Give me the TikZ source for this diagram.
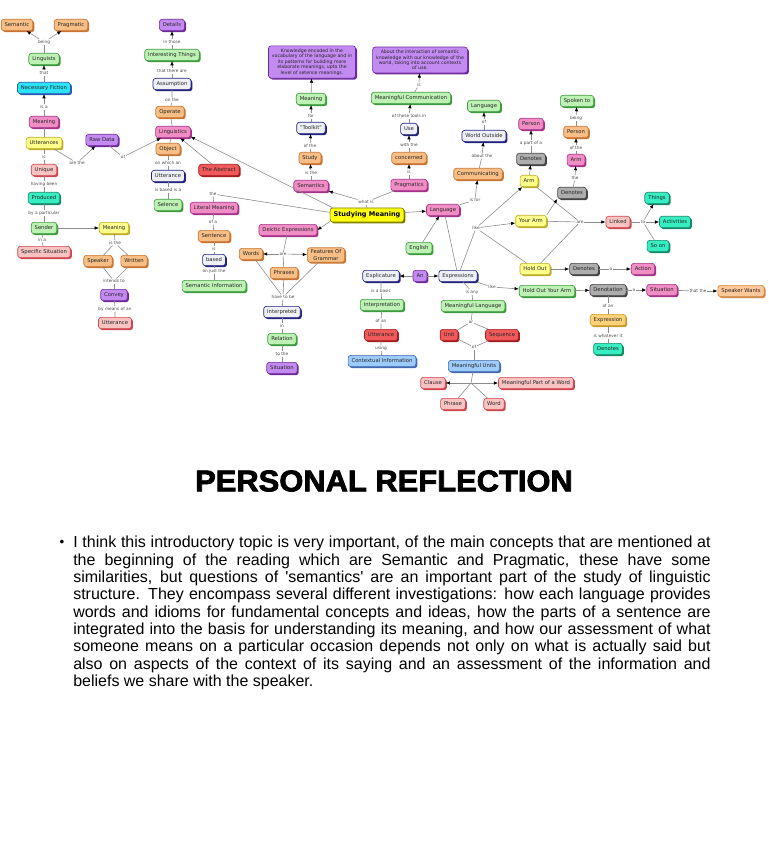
\documentclass[tikz,border=0pt]{standalone}
\usepackage{fontspec}
\usepackage{graphicx}
\setmainfont{Liberation Sans}
\newfontfamily\mapfont{DejaVu Sans}
\usetikzlibrary{arrows.meta,shadows}
\definecolor{MapInk}{HTML}{262626}
\definecolor{LinkInk}{HTML}{4A4A4A}
\definecolor{LinkLine}{HTML}{8C8C8C}
\definecolor{OrangeFill}{HTML}{F7BE85}
\definecolor{OrangeEdge}{HTML}{C87533}
\definecolor{GreenFill}{HTML}{BDF2B4}
\definecolor{GreenEdge}{HTML}{3E9B3E}
\definecolor{PinkFill}{HTML}{F18DC5}
\definecolor{PinkEdge}{HTML}{A6338A}
\definecolor{YellowFill}{HTML}{FFFF8C}
\definecolor{YellowEdge}{HTML}{BFAE2A}
\definecolor{CyanFill}{HTML}{2CE3F5}
\definecolor{CyanEdge}{HTML}{2A5BB5}
\definecolor{WhiteFill}{HTML}{EEF0F6}
\definecolor{WhiteEdge}{HTML}{23237E}
\definecolor{PurpleFill}{HTML}{C38AF2}
\definecolor{PurpleEdge}{HTML}{6E2A9A}
\definecolor{RedFill}{HTML}{F05A5A}
\definecolor{RedEdge}{HTML}{A51E1E}
\definecolor{SalmonFill}{HTML}{F7C3C3}
\definecolor{SalmonEdge}{HTML}{D0454E}
\definecolor{TealFill}{HTML}{35EFC2}
\definecolor{TealEdge}{HTML}{168A68}
\definecolor{GrayFill}{HTML}{ADADAD}
\definecolor{GrayEdge}{HTML}{454545}
\definecolor{BlueFill}{HTML}{9DCBFA}
\definecolor{BlueEdge}{HTML}{4569B2}
\definecolor{GoldFill}{HTML}{FFD27A}
\definecolor{GoldEdge}{HTML}{C89A2A}
\definecolor{PeachFill}{HTML}{FFC89A}
\definecolor{PeachEdge}{HTML}{D08A4A}
\definecolor{HighlightFill}{HTML}{FFFF10}
\definecolor{HighlightEdge}{HTML}{7A7A00}
\tikzset{
  mapbox/.style={draw=#1Edge, fill=#1Fill, line width=0.5pt, rounded corners=2pt,
    font=\mapfont\fontsize{3.95pt}{4.6pt}\selectfont, text=MapInk, align=center,
    inner xsep=2.6pt, inner ysep=1.6pt, minimum height=8.5pt,
    drop shadow={shadow xshift=1.1pt, shadow yshift=-1.1pt, fill=#1Edge, opacity=1}},
  focus/.style={mapbox=Highlight, font=\mapfont\bfseries\fontsize{4.9pt}{5.5pt}\selectfont,
    text=black, minimum height=10.5pt},
  notebox/.style={mapbox=Purple, font=\mapfont\fontsize{3.5pt}{4.1pt}\selectfont, inner ysep=2.2pt},
  linklabel/.style={font=\mapfont\fontsize{3.2pt}{3.8pt}\selectfont, text=LinkInk, fill=white, inner sep=0.5pt},
  maplink/.style={draw=LinkLine, line width=0.45pt},
  maparrow/.style={maplink, -{Latex[length=3.2pt,width=2.6pt,color=black]}},
}

\begin{document}
\begin{tikzpicture}[x=0.75pt,y=-0.75pt]
  \useasboundingbox (0,0) rectangle (768,866);
  % Left column: Semantic and Pragmatic down to Specific Situation
  \node[mapbox=Orange] (semanticTop) at (17,25) {Semantic};
  \node[mapbox=Orange] (pragmaticTop) at (71,25) {Pragmatic};
  \node[linklabel] (lbBeing) at (44,42) {being};
  \node[mapbox=Green] (linguists) at (44,59) {Linguists};
  \node[linklabel] (lbThat) at (44,73) {that};
  \node[mapbox=Cyan] (fiction) at (44,88) {Necessary Fiction};
  \node[linklabel] (lbIsA) at (44,107) {is a};
  \node[mapbox=Pink] (meaningLeft) at (44,122) {Meaning};
  \node[mapbox=Yellow] (utterances) at (44,143) {Utterances};
  \node[linklabel] (lbIs) at (44,157) {is};
  \node[mapbox=Salmon] (unique) at (44,170) {Unique};
  \node[linklabel] (lbHaving) at (44,184) {having been};
  \node[mapbox=Teal] (produced) at (44,198) {Produced};
  \node[linklabel] (lbParticular) at (44,213) {by a particular};
  \node[mapbox=Green] (sender) at (44,228) {Sender};
  \node[linklabel] (lbInA) at (42,240) {in a};
  \node[mapbox=Salmon] (specific) at (44,252) {Specific Situation};
  \node[mapbox=Yellow] (meaningSender) at (114,228) {Meaning};
  \node[linklabel] (lbIsThe) at (115,243) {is the};
  \node[mapbox=Orange] (speaker) at (98,261) {Speaker};
  \node[mapbox=Orange] (written) at (134,261) {Written};
  \node[linklabel] (lbIntends) at (114,281) {intends to};
  \node[mapbox=Purple] (convey) at (114,295) {Convey};
  \node[linklabel] (lbMeans) at (115,309) {by means of an};
  \node[mapbox=Salmon] (utteranceLeft) at (115,323) {Utterance};
  \node[linklabel] (lbAreThe) at (77,163) {are the};
  \node[mapbox=Purple] (rawData) at (102,140) {Raw Data};
  \node[linklabel] (lbOfRaw) at (123,157) {of};
  % Second column: Details down to Selence
  \node[mapbox=Purple] (details) at (172,25) {Details};
  \node[linklabel] (lbInThose) at (172,42) {in those};
  \node[mapbox=Green] (things) at (172,55) {Interesting Things};
  \node[linklabel] (lbThereAre) at (172,71) {that there are};
  \node[mapbox=White] (assumption) at (172,84) {Assumption};
  \node[linklabel] (lbOnThe) at (172,100) {on the};
  \node[mapbox=Orange] (operate) at (170,112) {Operate};
  \node[mapbox=Pink] (linguistics) at (173,132) {Linguistics};
  \node[mapbox=Orange] (object) at (168,149) {Object};
  \node[linklabel] (lbOnWhich) at (168,163) {on which an};
  \node[mapbox=White] (utteranceMid) at (168,176) {Utterance};
  \node[linklabel] (lbBasedIs) at (168,190) {is based is a};
  \node[mapbox=Green] (selence) at (168,205) {Selence};
  \node[mapbox=Red] (abstract) at (219,170) {The Abstract};
  % Third column: Literal Meaning
  \node[linklabel] (lbThe) at (213,194) {the};
  \node[mapbox=Pink] (literal) at (214,208) {Literal Meaning};
  \node[linklabel] (lbOfA) at (213,222) {of a};
  \node[mapbox=Orange] (sentence) at (214,236) {Sentence};
  \node[linklabel] (lbIsSent) at (214,249) {is};
  \node[mapbox=White] (based) at (214,260) {based};
  \node[linklabel] (lbJust) at (214,271) {on just the};
  \node[mapbox=Green] (semInfo) at (214,286) {Semantic Information};
  % Fourth column: Deictic Expressions
  \node[mapbox=Pink] (deictic) at (288,230) {Deictic Expressions};
  \node[mapbox=Orange] (words) at (251,254) {Words};
  \node[linklabel] (lbAreDeictic) at (283,254) {are};
  \node[mapbox=Orange] (grammar) at (326,255) {Features Of\\Grammar};
  \node[mapbox=Orange] (phrases) at (284,273) {Phrases};
  \node[linklabel] (lbHaveTo) at (283,297) {have to be};
  \node[mapbox=White] (interpreted) at (282,312) {Interpreted};
  \node[linklabel] (lbIn) at (282,326) {in};
  \node[mapbox=Green] (relation) at (282,339) {Relation};
  \node[linklabel] (lbToThe) at (282,354) {to the};
  \node[mapbox=Purple] (situationLow) at (282,368) {Situation};
  % Centre: Studying Meaning, Semantics and Pragmatics
  \node[focus] (studying) at (367,215) {Studying Meaning};
  \node[linklabel] (lbWhatIs) at (366,202) {what is};
  \node[mapbox=Pink] (semantics) at (311,186) {Semantics};
  \node[linklabel] (lbIsTheSem) at (311,173) {is the};
  \node[mapbox=Orange] (study) at (310,158) {Study};
  \node[linklabel] (lbOfTheSem) at (310,146) {of the};
  \node[mapbox=White] (toolkit) at (311,128) {"Toolkit"};
  \node[linklabel] (lbFor) at (311,116) {for};
  \node[mapbox=Green] (meaningTop) at (311,99) {Meaning};
  \node[notebox] (knowledge) at (312,62) {Knowledge encoded in the\\vocabulary of the language and in\\its patterns for building more\\elaborate meanings, upto the\\level of setence meanings.};
  \node[mapbox=Pink] (pragmatics) at (409,185) {Pragmatics};
  \node[linklabel] (lbIsPrag) at (409,172) {is};
  \node[mapbox=Orange] (concerned) at (409,158) {concerned};
  \node[linklabel] (lbWithThe) at (409,145) {with the};
  \node[mapbox=White] (use) at (409,129) {Use};
  \node[linklabel] (lbTools) at (409,116) {of these tools in};
  \node[mapbox=Green] (communication) at (411,98) {Meaningful Communication};
  \node[linklabel] (lbIsComm) at (419,85) {is};
  \node[notebox] (about) at (420,60) {About the interaction of semantic\\knowledge with our knowledge of the\\world, taking into account contexts\\of use.};
  % Language and Expressions
  \node[mapbox=Pink] (language) at (443,210) {Language};
  \node[linklabel] (lbIsFor) at (475,200) {is for};
  \node[mapbox=Orange] (communicating) at (478,174) {Communicating};
  \node[linklabel] (lbAboutThe) at (482,156) {about the};
  \node[mapbox=White] (world) at (484,136) {World Outside};
  \node[linklabel] (lbOfWorld) at (484,122) {of};
  \node[mapbox=Green] (languageTop) at (484,106) {Language};
  \node[mapbox=Green] (english) at (419,248) {English};
  \node[mapbox=White] (expressions) at (458,276) {Expressions};
  \node[mapbox=Purple] (an) at (420,276) {An};
  \node[mapbox=White] (explicature) at (381,276) {Explicature};
  \node[linklabel] (lbBasic) at (381,291) {is a basic};
  \node[mapbox=Green] (interpretation) at (382,305) {Interpretation};
  \node[linklabel] (lbOfAn) at (381,321) {of an};
  \node[mapbox=Red] (utteranceRed) at (381,335) {Utterance};
  \node[linklabel] (lbUsing) at (381,348) {using};
  \node[mapbox=Blue] (contextual) at (382,361) {Contextual Information};
  \node[linklabel] (lbLike) at (476,228) {like};
  \node[linklabel] (lbLikeHold) at (492,287) {like};
  \node[linklabel] (lbIsAny) at (472,292) {is any};
  \node[mapbox=Green] (meaningfulLang) at (473,306) {Meaningful Language};
  \node[linklabel] (lbOr) at (471,322) {or};
  \node[mapbox=Red] (unit) at (449,335) {Unit};
  \node[mapbox=Red] (sequence) at (502,335) {Sequence};
  \node[linklabel] (lbOfUnits) at (474,347) {of};
  \node[mapbox=Blue] (units) at (474,366) {Meaningful Units};
  \coordinate (hub) at (471,383);
  \node[mapbox=Salmon] (clause) at (433,383) {Clause};
  \node[mapbox=Salmon] (partWord) at (536,383) {Meaningful Part of a Word};
  \node[mapbox=Salmon] (phrase) at (453,404) {Phrase};
  \node[mapbox=Salmon] (word) at (494,404) {Word};
  % Right: Arm, Your Arm, Hold Out
  \node[mapbox=Yellow] (arm) at (529,181) {Arm};
  \node[mapbox=Gray] (denotesArm) at (531,159) {Denotes};
  \node[linklabel] (lbPartOf) at (531,143) {a part of a};
  \node[mapbox=Pink] (personArm) at (531,124) {Person};
  \node[mapbox=Yellow] (yourArm) at (531,221) {Your Arm};
  \node[mapbox=Yellow] (holdOut) at (535,269) {Hold Out};
  \node[linklabel] (lbAreArm) at (580,222) {are};
  \node[mapbox=Salmon] (linked) at (618,222) {Linked};
  \node[linklabel] (lbTo) at (643,222) {to};
  \node[mapbox=Teal] (thingsRight) at (657,198) {Things};
  \node[mapbox=Teal] (activities) at (675,222) {Activities};
  \node[mapbox=Teal] (soOn) at (658,246) {So on};
  \node[mapbox=Gray] (denotesYour) at (572,193) {Denotes};
  \node[linklabel] (lbTheArm) at (575,178) {the};
  \node[mapbox=Pink] (armPink) at (576,160) {Arm};
  \node[linklabel] (lbOfTheArm) at (576,148) {of the};
  \node[mapbox=Orange] (personSpoken) at (576,132) {Person};
  \node[linklabel] (lbBeingTo) at (576,118) {being};
  \node[mapbox=Green] (spoken) at (577,101) {Spoken to};
  \node[mapbox=Gray] (denotesHold) at (584,269) {Denotes};
  \node[linklabel] (lbAAction) at (611,269) {a};
  \node[mapbox=Pink] (action) at (643,269) {Action};
  \node[mapbox=Green] (holdYourArm) at (547,291) {Hold Out Your Arm};
  \node[mapbox=Gray] (denotation) at (608,290) {Denotation};
  \node[linklabel] (lbASit) at (634,290) {a};
  \node[mapbox=Pink] (situationRight) at (662,290) {Situation};
  \node[linklabel] (lbThatThe) at (698,291) {that the};
  \node[mapbox=Peach] (wants) at (741,291) {Speaker Wants};
  \node[linklabel] (lbOfAnExp) at (608,306) {of an};
  \node[mapbox=Gold] (expression) at (608,320) {Expression};
  \node[linklabel] (lbWhatever) at (608,336) {is whatever it};
  \node[mapbox=Teal] (denotesEnd) at (608,349) {Denotes};
  % Links: left column
  \draw[maplink] (linguists) -- (lbBeing);
  \draw[maparrow] (lbBeing) -- (semanticTop);
  \draw[maparrow] (lbBeing) -- (pragmaticTop);
  \draw[maplink] (fiction) -- (lbThat);
  \draw[maparrow] (lbThat) -- (linguists);
  \draw[maplink] (meaningLeft) -- (lbIsA);
  \draw[maparrow] (lbIsA) -- (fiction);
  \draw[maplink] (utterances) -- (meaningLeft);
  \draw[maplink] (utterances) -- (lbIs) -- (unique);
  \draw[maplink] (unique) -- (lbHaving) -- (produced);
  \draw[maplink] (produced) -- (lbParticular) -- (sender);
  \draw[maplink] (sender) -- (lbInA) -- (specific);
  \draw[maparrow] (sender) -- (meaningSender);
  \draw[maplink] (meaningSender) -- (lbIsThe);
  \draw[maplink] (lbIsThe) -- (speaker);
  \draw[maplink] (lbIsThe) -- (written);
  \draw[maplink] (speaker) -- (lbIntends);
  \draw[maplink] (written) -- (lbIntends);
  \draw[maplink] (lbIntends) -- (convey);
  \draw[maplink] (convey) -- (lbMeans) -- (utteranceLeft);
  \draw[maplink] (utterances) -- (lbAreThe);
  \draw[maparrow] (lbAreThe) -- (rawData);
  \draw[maplink] (rawData) -- (lbOfRaw);
  \draw[maparrow] (lbOfRaw) -- (linguistics);
  % Links: second and third column
  \draw[maplink] (linguistics) -- (operate);
  \draw[maplink] (operate) -- (lbOnThe) -- (assumption);
  \draw[maplink] (assumption) -- (lbThereAre);
  \draw[maparrow] (lbThereAre) -- (things);
  \draw[maplink] (things) -- (lbInThose);
  \draw[maparrow] (lbInThose) -- (details);
  \draw[maplink] (linguistics) -- (object);
  \draw[maplink] (object) -- (lbOnWhich) -- (utteranceMid);
  \draw[maplink] (utteranceMid) -- (lbBasedIs) -- (selence);
  \draw[maparrow] (abstract) -- (linguistics);
  \draw[maparrow] (studying.168) -- (linguistics.-15);
  \draw[maplink] (literal) -- (lbThe);
  \draw[maplink] (lbThe) -- (studying.176);
  \draw[maplink] (literal) -- (lbOfA) -- (sentence);
  \draw[maplink] (sentence) -- (lbIsSent) -- (based);
  \draw[maplink] (based) -- (lbJust) -- (semInfo);
  % Links: Deictic Expressions
  \draw[maparrow] (studying.190) -- (deictic.east);
  \draw[maplink] (deictic) -- (lbAreDeictic);
  \draw[maparrow] (lbAreDeictic) -- (words);
  \draw[maparrow] (lbAreDeictic) -- (grammar);
  \draw[maplink] (lbAreDeictic) -- (phrases);
  \draw[maplink] (words) -- (lbHaveTo);
  \draw[maplink] (phrases) -- (lbHaveTo);
  \draw[maplink] (grammar) -- (lbHaveTo);
  \draw[maplink] (lbHaveTo) -- (interpreted);
  \draw[maplink] (interpreted) -- (lbIn) -- (relation);
  \draw[maplink] (relation) -- (lbToThe) -- (situationLow);
  % Links: Semantics and Pragmatics
  \draw[maplink] (studying) -- (lbWhatIs);
  \draw[maparrow] (lbWhatIs) -- (semantics);
  \draw[maplink] (lbWhatIs) -- (pragmatics);
  \draw[maplink] (semantics) -- (lbIsTheSem);
  \draw[maparrow] (lbIsTheSem) -- (study);
  \draw[maplink] (study) -- (lbOfTheSem);
  \draw[maparrow] (lbOfTheSem) -- (toolkit);
  \draw[maplink] (toolkit) -- (lbFor);
  \draw[maparrow] (lbFor) -- (meaningTop);
  \draw[maparrow] (meaningTop) -- (knowledge);
  \draw[maplink] (pragmatics) -- (lbIsPrag);
  \draw[maparrow] (lbIsPrag) -- (concerned);
  \draw[maplink] (concerned) -- (lbWithThe);
  \draw[maparrow] (lbWithThe) -- (use);
  \draw[maplink] (use) -- (lbTools);
  \draw[maparrow] (lbTools) -- (communication);
  \draw[maplink] (communication) -- (lbIsComm);
  \draw[maparrow] (lbIsComm) -- (about);
  % Links: Language and Expressions
  \draw[maparrow] (studying) -- (language);
  \draw[maplink] (language) -- (lbIsFor);
  \draw[maparrow] (lbIsFor) -- (communicating);
  \draw[maplink] (communicating) -- (lbAboutThe);
  \draw[maparrow] (lbAboutThe) -- (world);
  \draw[maplink] (world) -- (lbOfWorld);
  \draw[maparrow] (lbOfWorld) -- (languageTop);
  \draw[maparrow] (english) -- (language);
  \draw[maplink] (expressions) -- (language.-70);
  \draw[maplink] (expressions) -- (lbLike);
  \draw[maparrow] (lbLike) -- (arm);
  \draw[maparrow] (lbLike) -- (yourArm);
  \draw[maplink] (lbLike) -- (holdOut);
  \draw[maparrow] (an) -- (explicature);
  \draw[maparrow] (an) -- (expressions);
  \draw[maplink] (explicature) -- (lbBasic) -- (interpretation);
  \draw[maplink] (interpretation) -- (lbOfAn) -- (utteranceRed);
  \draw[maplink] (utteranceRed) -- (lbUsing) -- (contextual);
  \draw[maplink] (expressions) -- (lbLikeHold);
  \draw[maparrow] (lbLikeHold) -- (holdYourArm);
  \draw[maplink] (expressions) -- (lbIsAny) -- (meaningfulLang);
  \draw[maplink] (meaningfulLang) -- (lbOr);
  \draw[maplink] (lbOr) -- (unit);
  \draw[maplink] (lbOr) -- (sequence);
  \draw[maplink] (unit) -- (lbOfUnits);
  \draw[maplink] (sequence) -- (lbOfUnits);
  \draw[maplink] (lbOfUnits) -- (units);
  \draw[maplink] (units) -- (hub);
  \draw[maparrow] (hub) -- (clause);
  \draw[maparrow] (hub) -- (partWord);
  \draw[maplink] (hub) -- (phrase);
  \draw[maplink] (hub) -- (word);
  % Links: Arm, Your Arm, Hold Out
  \draw[maparrow] (arm) -- (denotesArm);
  \draw[maplink] (denotesArm) -- (lbPartOf);
  \draw[maparrow] (lbPartOf) -- (personArm);
  \draw[maplink] (arm) -- (lbAreArm);
  \draw[maplink] (yourArm) -- (lbAreArm);
  \draw[maplink] (holdOut) -- (lbAreArm);
  \draw[maparrow] (lbAreArm) -- (linked);
  \draw[maparrow] (yourArm.north east) -- (denotesYour.south west);
  \draw[maplink] (denotesYour) -- (lbTheArm);
  \draw[maparrow] (lbTheArm) -- (armPink);
  \draw[maplink] (armPink) -- (lbOfTheArm);
  \draw[maparrow] (lbOfTheArm) -- (personSpoken);
  \draw[maplink] (personSpoken) -- (lbBeingTo);
  \draw[maparrow] (lbBeingTo) -- (spoken);
  \draw[maplink] (linked) -- (lbTo);
  \draw[maparrow] (lbTo) -- (thingsRight);
  \draw[maparrow] (lbTo) -- (activities);
  \draw[maplink] (lbTo) -- (soOn);
  \draw[maparrow] (holdOut) -- (denotesHold);
  \draw[maplink] (denotesHold) -- (lbAAction);
  \draw[maparrow] (lbAAction) -- (action);
  \draw[maparrow] (holdYourArm) -- (denotation);
  \draw[maplink] (denotation) -- (lbASit);
  \draw[maparrow] (lbASit) -- (situationRight);
  \draw[maplink] (situationRight) -- (lbThatThe);
  \draw[maparrow] (lbThatThe) -- (wants);
  \draw[maplink] (denotation) -- (lbOfAnExp) -- (expression);
  \draw[maplink] (expression) -- (lbWhatever) -- (denotesEnd);
  % Personal reflection
  \node[font=\bfseries\fontsize{22.5pt}{26pt}\selectfont] (title) at (384,481)
    {\addfontfeature{FakeBold=2.4}\scalebox{1.03}[1]{PERSONAL REFLECTION}};
  \node[font=\fontsize{10pt}{12pt}\selectfont] (bullet) at (62,543) {\textbullet};
  \node[anchor=north west, inner sep=0pt, text width=478pt, align=justify,
    font=\fontsize{12pt}{13pt}\selectfont] (reflection) at (73,536)
    {I think this introductory topic is very important, of the main concepts that are mentioned at\linebreak
     the beginning of the reading which are Semantic and Pragmatic, these have some\linebreak
     similarities, but questions of \textquotesingle semantics\textquotesingle{} are an important part of the study of linguistic\linebreak
     structure. They encompass several different investigations: how each language provides\linebreak
     words and idioms for fundamental concepts and ideas, how the parts of a sentence are\linebreak
     integrated into the basis for understanding its meaning, and how our assessment of what\linebreak
     someone means on a particular occasion depends not only on what is actually said but\linebreak
     also on aspects of the context of its saying and an assessment of the information and\linebreak
     beliefs we share with the speaker.};
\end{tikzpicture}
\end{document}
